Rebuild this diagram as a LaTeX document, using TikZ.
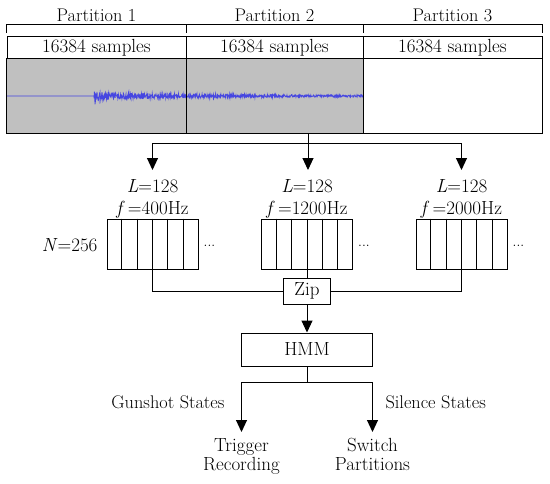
\documentclass[tikz,border=0pt]{standalone}
\usetikzlibrary{arrows.meta,calc}
\definecolor{wavegray}{RGB}{192,192,192}
\definecolor{waveblue}{RGB}{70,70,225}
\begin{document}
\begin{tikzpicture}[x=1pt,y=-1pt,
  every node/.style={font=\fontsize{19}{19}\selectfont},
  small/.style={font=\fontsize{18.3}{19}\selectfont},
  box/.style={draw, line width=1pt, inner sep=0pt},
  cell/.style={inner sep=0pt, minimum height=74pt},
  arr/.style={line width=1pt,-{Triangle[width=11pt,length=12pt]}},
  ln/.style={line width=1pt}]
\useasboundingbox (0,0) rectangle (550,483);

% sample row
\node[box, minimum width=179pt, minimum height=23pt] (s1) at (96.5,47.5) {16384 samples};
\node[box, minimum width=177pt, minimum height=23pt] (s2) at (274.5,47.5) {16384 samples};
\node[box, minimum width=179pt, minimum height=23pt] (s3) at (452.5,47.5) {16384 samples};

% partition labels and bracket
\node[small, anchor=base] (p1) at (96.5,21) {Partition 1};
\node[small, anchor=base] (p2) at (274.5,21) {Partition 2};
\node[small, anchor=base] (p3) at (452.5,21) {Partition 3};
\draw[ln] ($(s1.north west)+(0,-3)$) -- ++(0,-8) -- ($(s3.north east)+(0,-11)$) -- ++(0,8);
\draw[ln] ($(s1.north east)+(0,-11)$) -- ++(0,8);
\draw[ln] ($(s2.north east)+(0,-11)$) -- ++(0,8);

% waveform cells
\node[cell, fill=wavegray, minimum width=179pt] (w1) at (96.5,96) {};
\node[cell, fill=wavegray, minimum width=177pt] (w2) at (274.5,96) {};
\node[cell, fill=white, minimum width=179pt] (w3) at (452.5,96) {};
\pgfmathsetseed{7}
\draw[waveblue, line width=0.8pt] (w1.west) -- (94,96) -- plot[domain=94:363, samples=800]
  (\x,{96+(7*exp(-(\x-94)/3)+3.2*exp(-(\x-94)/180)+0.3)*rand});
\draw[ln] (w1.north west) rectangle (w3.south east);
\draw[ln] (w1.north east) -- (w1.south east);
\draw[ln] (w2.north east) -- (w2.south east);

% distribution arrows
\coordinate (tap) at (308,133);
\coordinate (split) at (308,143);
\coordinate (a1) at (152.5,170);
\coordinate (a2) at (308,170);
\coordinate (a3) at (461.5,170);
\draw[arr] (tap) -- (a2);
\draw[arr] (split) -| (a1);
\draw[arr] (split) -| (a3);

% labels
\node[anchor=base] (L1) at (152.5,192) {\textit{L}=128};
\node[anchor=base] (F1) at (152.5,214) {\textit{f}\,=400Hz};
\node[anchor=base] (L2) at (307,192) {\textit{L}=128};
\node[anchor=base] (F2) at (307,214) {\textit{f}\,=1200Hz};
\node[anchor=base] (L3) at (461.5,192) {\textit{L}=128};
\node[anchor=base] (F3) at (461.5,214) {\textit{f}\,=2000Hz};
\node[anchor=base east] (N) at (101,251) {\textit{N}=256};

% registers
\node[box, minimum width=91pt, minimum height=50pt] (r1) at (152.5,244) {};
\node[box, minimum width=91pt, minimum height=50pt] (r2) at (307,244) {};
\node[box, minimum width=91pt, minimum height=50pt] (r3) at (461.5,244) {};
\foreach \r in {r1,r2,r3}{
  \foreach \i in {1,...,5}{
    \draw[ln] ($(\r.north west)!\i/6!(\r.north east)$) -- ($(\r.south west)!\i/6!(\r.south east)$);
  }
}
\node[anchor=base west, inner sep=0pt, font=\fontsize{14}{16}\selectfont] (d1) at ($(r1.east)+(5,2)$) {...};
\node[anchor=base west, inner sep=0pt, font=\fontsize{14}{16}\selectfont] (d2) at ($(r2.east)+(5,2)$) {...};
\node[anchor=base west, inner sep=0pt, font=\fontsize{14}{16}\selectfont] (d3) at ($(r3.east)+(5,2)$) {...};

% zip and HMM
\node[box, minimum width=47pt, minimum height=26pt] (zip) at (307,291) {Zip};
\draw[ln] (r1.south) |- (zip.west);
\draw[ln] (r3.south) |- (zip.east);
\draw[ln] (r2.south) -- (zip.north);
\node[box, minimum width=131pt, minimum height=33pt] (hmm) at (307,349.5) {HMM};
\draw[arr] (zip.south) -- (hmm.north);

% outputs
\coordinate (br) at (307,382);
\coordinate (g1) at (241.5,432);
\coordinate (g2) at (372.5,432);
\draw[ln] (hmm.south) -- (br);
\draw[arr] (br) -| (g1);
\draw[arr] (br) -| (g2);
\node[small, anchor=base east] (gs) at (228,408) {Gunshot States};
\node[small, anchor=base west] (ss) at (382,408) {Silence States};
\node[anchor=north, align=center, inner sep=0pt] (tr) at (241.5,438) {Trigger\\Recording};
\node[anchor=north, align=center, inner sep=0pt] (sp) at (372.5,438) {Switch\\Partitions};
\end{tikzpicture}
\end{document}
